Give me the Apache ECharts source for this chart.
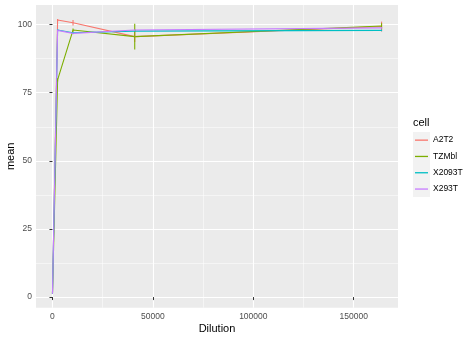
<!DOCTYPE html>
<html><head><meta charset="utf-8">
<script src="https://cdn.jsdelivr.net/npm/echarts@6/dist/echarts.min.js"></script>
<style>html,body{margin:0;padding:0;background:#fff}#c{width:474px;height:338px}</style>
</head><body><div id="c"></div>
<script>
const cells = ['A2T2', 'TZMbl', 'X2093T', 'X293T'];
const dilution = [10, 40, 160, 640, 2560, 10240, 40960, 163840];
const meanA2T2   = [1.2, 1.3, 1.4, 1.5, 101.7, 100.7, 95.6, 99.3];
const meanTZMbl  = [1.2, 1.3, 1.4, 1.6, 79.7, 98.0, 95.6, 99.5];
const meanX2093T = [1.2, 1.3, 1.4, 1.5, 98.0, 97.0, 97.6, 97.9];
const meanX293T  = [1.2, 1.3, 1.4, 1.5, 97.9, 96.8, 98.0, 98.8];
const sdA2T2   = [0, 0, 0, 0, 0.4, 1.0, 2.0, 1.8];
const sdTZMbl  = [0, 0, 0, 0, 0.6, 0.6, 4.7, 1.0];
const sdX2093T = [0, 0, 0, 0, 0.3, 0.3, 0.3, 0.3];
const sdX293T  = [0, 0, 0, 0, 0.3, 0.3, 0.3, 0.3];
const xTicks = [0, 50000, 100000, 150000];
const xMinor = [25000, 75000, 125000];
const yTicks = [0, 25, 50, 75, 100];
const yMinor = [12.5, 37.5, 62.5, 87.5];

const colors = ['#F8766D', '#7CAE00', '#00BFC4', '#C77CFF'];
const means = [meanA2T2, meanTZMbl, meanX2093T, meanX293T];
const sds = [sdA2T2, sdTZMbl, sdX2093T, sdX293T];
const FONT = '"Liberation Sans", Arial, sans-serif';

const X_MIN = -8192, X_MAX = 172032, Y_MIN = -3.9, Y_MAX = 107.2;

const series = [];
cells.forEach((c, k) => {
  series.push({
    name: c, type: 'line', xAxisIndex: 0, yAxisIndex: 0,
    data: dilution.map((d, i) => [d, means[k][i]]),
    showSymbol: false, symbol: 'none',
    lineStyle: { color: colors[k], width: 1.1 },
    itemStyle: { color: colors[k] },
    z: 3, animation: false
  });
});
cells.forEach((c, k) => {
  series.push({
    name: c + '_err', type: 'custom', xAxisIndex: 0, yAxisIndex: 0,
    data: dilution.map((d, i) => [d, means[k][i] - sds[k][i], means[k][i] + sds[k][i]]).filter((r, i) => sds[k][i] > 0),
    encode: { x: 0, y: [1, 2] },
    renderItem: function (params, api) {
      const p1 = api.coord([api.value(0), api.value(1)]);
      const p2 = api.coord([api.value(0), api.value(2)]);
      return { type: 'line', shape: { x1: p1[0], y1: p1[1], x2: p2[0], y2: p2[1] },
        style: { stroke: colors[k], lineWidth: 1.1 } };
    },
    z: 4, animation: false, silent: true
  });
});

const chart = echarts.init(document.getElementById('c'), null, { renderer: 'canvas' });
chart.setOption({
  animation: false,
  textStyle: { fontFamily: FONT },
  grid: { left: 36, top: 5, width: 362, height: 302.7, show: true, backgroundColor: '#EBEBEB', borderWidth: 0, containLabel: false, outerBoundsMode: 'none' },
  xAxis: [{
    type: 'value', min: X_MIN, max: X_MAX, interval: 50000,
    name: 'Dilution', nameLocation: 'middle', nameGap: 16, nameMoveOverlap: false,
    nameTextStyle: { fontSize: 11, color: '#000', fontFamily: FONT },
    axisLine: { show: false },
    axisTick: { show: true, length: 3, lineStyle: { color: '#333', width: 1 }, customValues: xTicks },
    axisLabel: { color: '#4D4D4D', fontSize: 8.5, margin: 4, fontFamily: FONT, customValues: xTicks, formatter: v => String(v) },
    splitLine: { show: true, lineStyle: { color: '#fff', width: 1.1 } }
  }, {
    type: 'value', min: X_MIN, max: X_MAX, position: 'bottom',
    axisLine: { show: false },
    axisTick: { show: false, customValues: xMinor },
    axisLabel: { show: false, customValues: xMinor },
    splitLine: { show: true, lineStyle: { color: '#fff', width: 0.5 } }
  }],
  yAxis: [{
    type: 'value', min: Y_MIN, max: Y_MAX, interval: 25,
    name: 'mean', nameLocation: 'middle', nameGap: 20, nameMoveOverlap: false,
    nameTextStyle: { fontSize: 11, color: '#000', fontFamily: FONT },
    axisLine: { show: false },
    axisTick: { show: true, length: 3, lineStyle: { color: '#333', width: 1 }, customValues: yTicks },
    axisLabel: { color: '#4D4D4D', fontSize: 8.5, margin: 4, fontFamily: FONT, customValues: yTicks },
    splitLine: { show: true, lineStyle: { color: '#fff', width: 1.1 } }
  }, {
    type: 'value', min: Y_MIN, max: Y_MAX, position: 'left',
    axisLine: { show: false },
    axisTick: { show: false, customValues: yMinor },
    axisLabel: { show: false, customValues: yMinor },
    splitLine: { show: true, lineStyle: { color: '#fff', width: 0.5 } }
  }],
  legend: {
    orient: 'vertical', left: 415, top: 132, padding: 0,
    data: cells, icon: 'rect', itemWidth: 13, itemHeight: 1.3, itemGap: 0,
    selectedMode: false,
    textStyle: { fontSize: 8.5, color: '#000', lineHeight: 16.3, fontFamily: FONT }
  },
  graphic: [
    { type: 'rect', left: 413, top: 132, shape: { width: 17, height: 65 }, style: { fill: '#F2F2F2' }, z: -1 },
    { type: 'text', left: 413, top: 117, style: { text: 'cell', fontSize: 11, fill: '#000', fontFamily: FONT } }
  ],
  series: series
});
</script></body></html>
